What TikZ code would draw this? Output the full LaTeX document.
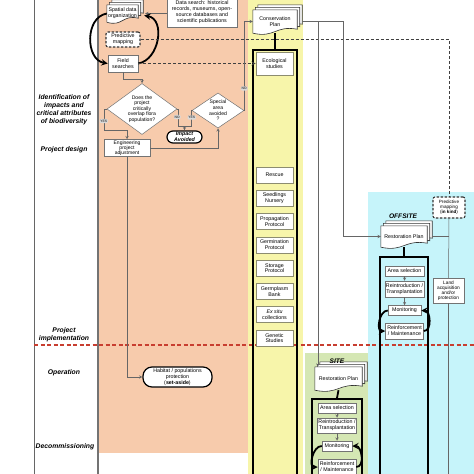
\documentclass[tikz,border=0pt]{standalone}
\usepackage{fontspec}
\setmainfont{Liberation Sans}
\usepackage{tikz}
\usetikzlibrary{shapes.geometric, positioning, calc}

\pgfdeclarelayer{back}
\pgfdeclarelayer{sheets}
\pgfsetlayers{back,sheets,main}

\definecolor{peach}{RGB}{247,203,172}
\definecolor{paleyellow}{RGB}{247,245,170}
\definecolor{palegreen}{RGB}{213,231,180}
\definecolor{palecyan}{RGB}{198,244,250}
\definecolor{dashred}{RGB}{200,62,48}
\definecolor{olivegray}{RGB}{140,140,112}

% stacked document sheets behind a node
\newcommand{\docstack}[1]{%
  \begin{pgfonlayer}{sheets}
    \foreach \dd in {5,2.5,0}{%
      \draw[sheet] ($(#1.north west)+(\dd,-\dd)$) -- ($(#1.north east)+(\dd,-\dd)$)
        -- ($(#1.south east)+(\dd,-\dd-4)$)
        .. controls ($(#1.south)+(\dd,-\dd-8)$) and ($(#1.south)+(\dd,-\dd+5)$) .. ($(#1.south west)+(\dd,-\dd)$) -- cycle;
    }
  \end{pgfonlayer}}

\begin{document}
\begin{tikzpicture}[x=1pt, y=-1pt,
    font=\fontsize{5.3}{5.9}\selectfont,
    box/.style={rectangle, draw=black!55, fill=white, line width=0.5pt, align=center, inner sep=0.8pt},
    ybx/.style={box, draw=olivegray, line width=0.8pt, minimum width=37pt, minimum height=16pt},
    doc/.style={rectangle, align=center, inner sep=0pt},
    sheet/.style={draw=black!80, fill=white, line width=0.6pt},
    mapbox/.style={rectangle, draw=black!80, line width=1.1pt, dash pattern=on 2.5pt off 1.5pt, fill=white, rounded corners=2pt, align=center, inner sep=0.5pt},
    decision/.style={diamond, draw=black!55, fill=white, line width=0.5pt, aspect=1.4, inner sep=0pt, align=center, font=\fontsize{5.1}{5.6}\selectfont},
    ending/.style={rectangle, rounded corners=6pt, draw=black, line width=1.2pt, fill=white, align=center, inner sep=0.5pt},
    container/.style={rectangle, draw=black, line width=1.8pt, inner sep=0pt},
    tag/.style={rectangle, rounded corners=1pt, fill=black!15, text=black!70, font=\fontsize{3.4}{3.4}\selectfont\bfseries, inner sep=0.8pt},
    phase/.style={align=center, font=\fontsize{6.8}{8}\selectfont\bfseries\itshape},
    zone/.style={font=\fontsize{6.6}{7}\selectfont\bfseries\itshape},
    wire/.style={draw=black!60, line width=0.5pt},
    arrow/.style={wire, ->, >=stealth},
    thickwire/.style={draw=black, line width=1.8pt},
    dashline/.style={draw=black!75, line width=0.8pt, dash pattern=on 3pt off 2pt},
    cyclearrow/.style={->, >=stealth, line width=1.8pt}
]
    \useasboundingbox (0,0) rectangle (474,474);
    \clip (0,0) rectangle (474,474);

    % Background zones
    \begin{pgfonlayer}{back}
        \fill[peach] (98,0) rectangle (248,453);
        \fill[paleyellow] (248,0) rectangle (303,474);
        \fill[palecyan] (368,192) rectangle (474,474);
        \fill[palegreen] (305,353) rectangle (368,474);
    \end{pgfonlayer}
    \draw[black!60, line width=1pt] (34,0) -- (34,474);
    \draw[black!55, line width=1.3pt] (98,0) -- (98,474);

    % Phases
    \node[phase] (ident) at (64,110) {Identification of\\impacts and\\critical attributes\\of biodiversity};
    \node[phase] (design) at (64,150) {Project design};
    \node[phase] (impl) at (64,335) {Project\\implementation};
    \node[phase] (operation) at (64,373) {Operation};
    \node[phase] (decom) at (65,447) {Decommissioning};
    \draw[dashred, line width=1.3pt, dash pattern=on 4pt off 2.5pt] (34,345) -- (474,345);

    % Search and mapping
    \node[box, minimum width=70pt, minimum height=30pt] (datasearch) at (202,12) {Data search: historical\\records, museums, open-\\source databases and\\scientific publications};
    \node[doc, minimum width=31pt, minimum height=17pt] (spatial) at (122.5,13.5) {Spatial data\\organization};
    \docstack{spatial}
    \node[mapbox, minimum width=34pt, minimum height=15pt] (predmap) at (123,39.5) {Predictive\\mapping};
    \node[box, minimum width=30pt, minimum height=17pt] (field) at (123,63.5) {Field\\searches};

    % Decisions
    \node[decision, minimum width=70pt, minimum height=51pt] (overlap) at (142,109) {Does the\\project\\critically\\overlap flora\\population?};
    \node[decision, minimum width=52pt, minimum height=35pt] (special) at (218,110.5) {Special\\area\\avoided\\?};
    \node[ending, minimum width=35pt, minimum height=12pt, font=\fontsize{5.3}{5.6}\selectfont\bfseries\itshape] (impact) at (184.5,137) {Impact\\Avoided};
    \node[box, minimum width=46pt, minimum height=17pt, font=\fontsize{5}{5.1}\selectfont] (engineering) at (127,148) {Engineering\\project\\adjustment};
    \node[ending, rounded corners=9pt, minimum width=69pt, minimum height=20pt] (habitat) at (177.5,377) {Habitat / populations\\protection\\(\textbf{set-aside})};

    % Conservation column
    \node[doc, minimum width=44pt, minimum height=23pt] (cplan) at (275,21.5) {Conservation\\Plan};
    \docstack{cplan}
    \node[container, minimum width=44pt, minimum height=445pt, anchor=north] (ybox) at (275,49) {};
    \node[ybx, minimum height=23pt] (ecol) at (274.5,63.5) {Ecological\\studies};
    \node[ybx] (rescue) at (274.5,175) {Rescue};
    \node[ybx, below=6.5pt of rescue] (nursery) {Seedlings\\Nursery};
    \node[ybx, below=6.5pt of nursery] (propag) {Propagation\\Protocol};
    \node[ybx, below=6.5pt of propag] (germin) {Germination\\Protocol};
    \node[ybx, below=6.5pt of germin] (storage) {Storage\\Protocol};
    \node[ybx, below=6.5pt of storage] (bank) {Germplasm\\Bank};
    \node[ybx, below=6.5pt of bank] (exsitu) {\textit{Ex situ}\\collections};
    \node[ybx, below=6.5pt of exsitu] (genetic) {Genetic\\Studies};

    % Offsite restoration
    \node[zone] (offsite) at (403,216) {OFFSITE};
    \node[doc, minimum width=46pt, minimum height=21pt] (offplan) at (404,236.5) {Restoration Plan};
    \docstack{offplan}
    \node[container, minimum width=48pt, minimum height=230pt, anchor=north] (offbox) at (404,256) {};
    \node[box, minimum width=39pt, minimum height=10pt] (offarea) at (404.5,271) {Area selection};
    \node[box, minimum width=39pt, minimum height=16pt] (offreint) at (404.5,289) {Reintroduction /\\Transplantation};
    \node[box, minimum width=33pt, minimum height=10pt] (offmon) at (404.5,310.5) {Monitoring};
    \node[box, minimum width=38pt, minimum height=16pt] (offreinf) at (404.5,331) {Reinforcement\\/ Maintenance};
    \node[mapbox, minimum width=32pt, minimum height=21pt, font=\fontsize{4.6}{4.7}\selectfont] (predkind) at (449,207.5) {Predictive\\mapping\\(\textbf{in kind})};
    \node[box, minimum width=31pt, minimum height=25pt, font=\fontsize{4.8}{5}\selectfont] (land) at (448.5,290.5) {Land\\acquisition\\and/or\\protection};

    % Site restoration
    \node[zone] (site) at (337,361) {SITE};
    \node[doc, minimum width=47pt, minimum height=23pt] (siteplan) at (338.5,378.5) {Restoration Plan};
    \docstack{siteplan}
    \node[container, minimum width=50pt, minimum height=100pt, anchor=north] (sitebox) at (337,398) {};
    \node[box, minimum width=38pt, minimum height=10pt] (sitearea) at (337,408) {Area selection};
    \node[box, minimum width=38pt, minimum height=15pt] (sitereint) at (337,425.5) {Reintroduction /\\Transplantation};
    \node[box, minimum width=30pt, minimum height=10pt] (sitemon) at (337,446) {Monitoring};
    \node[box, minimum width=38pt, minimum height=16pt] (sitereinf) at (337,467) {Reinforcement\\/ Maintenance};

    % Arrows
    \draw[arrow] (datasearch.west |- spatial.east) -- ($(spatial.east)+(7,0)$);
    \draw[cyclearrow] (spatial.west) to[out=190, in=170, looseness=1.15] (field.west);
    \draw[cyclearrow] (field.east) to[out=10, in=-10, looseness=1.15] ($(spatial.east)+(6,2)$);
    \draw[dashline] (predmap.east) -| (predkind.north);
    \draw[dashline, ->, >=stealth] (field.east) -- (ecol.west);
    \draw[arrow] (field.south) -- ++(0,7) -| (overlap.north);
    \draw[arrow] (overlap.west) -| ($(overlap.west)+(-3,21)$) -| (engineering.north);
    \coordinate (join) at ($(impact.north)+(0,-4)$);
    \draw[wire] (overlap.east) -- ++(1,0) |- (join);
    \draw[wire] (special.west) -- ++(-1,0) |- (join);
    \draw[arrow] (join) -- (impact.north);
    \draw[arrow] (engineering.east) -| (special.south);
    \draw[arrow] (special.east) |- (cplan.west);
    \draw[arrow] (engineering.south) |- (habitat.west);
    \node[tag] (yes1) at ($(overlap.west)+(-3,12)$) {YES};
    \node[tag] (no1) at ($(overlap.east)+(0,8)$) {NO};
    \node[tag] (yes2) at ($(special.west)+(0,7)$) {YES};
    \node[tag] (no2) at ($(special.east)+(0,-22)$) {NO};

    \draw[thickwire] (cplan.south) -- (ybox.north);
    \draw[arrow] ($(cplan.east)+(5,0)$) -| ($(siteplan.north west)+(3,0)$);
    \draw[arrow] ($(cplan.east)+(5,0)$) -| ($(offplan.west)+(-38,0)$) -- (offplan.west);

    \draw[thickwire] (offplan.south) -- (offbox.north);
    \draw[arrow] (offarea) -- (offreint);
    \draw[arrow] (offreint) -- (offmon);
    \draw[cyclearrow] (offmon.west) to[out=180, in=180, looseness=1.1] (offreinf.west);
    \draw[cyclearrow] (offreinf.east) to[out=0, in=0, looseness=1.1] (offmon.east);
    \draw[wire] ($(offplan.east)+(5,0)$) -- (offplan.east -| land.north);
    \draw[wire] (predkind.south) -- (land.north);
    \coordinate (landend) at ($(land.south)+(0,200)$);
    \draw[wire] (land.south) -- (landend);

    \draw[thickwire] (siteplan.south) -- (sitebox.north);
    \draw[arrow] (sitearea) -- (sitereint);
    \draw[arrow] (sitereint) -- (sitemon);
    \draw[cyclearrow] (sitemon.west) to[out=180, in=180, looseness=1.1] (sitereinf.west);
    \draw[cyclearrow] (sitereinf.east) to[out=0, in=0, looseness=1.1] (sitemon.east);
\end{tikzpicture}
\end{document}
